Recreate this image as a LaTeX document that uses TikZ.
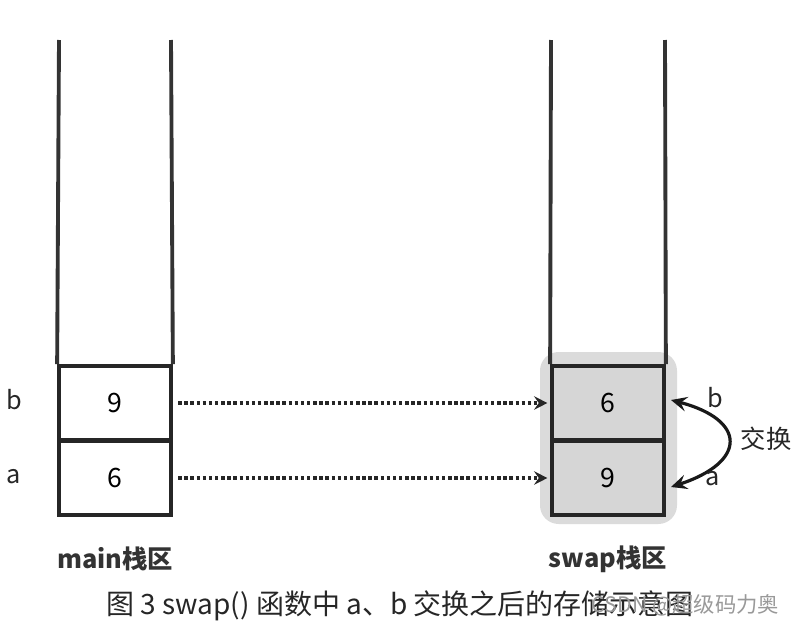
\documentclass[tikz,border=0pt]{standalone}
\usepackage{fontspec}
\setmainfont{Noto Sans CJK SC}
\usetikzlibrary{arrows.meta,fit,backgrounds}
\begin{document}
\begin{tikzpicture}[x=0.75pt,y=-0.75pt,
  cell/.style={draw=black!85,line width=2.8pt,minimum width=84pt,minimum height=55.5pt,inner sep=0pt,font=\fontsize{20}{23}\selectfont},
  wall/.style={draw=black!80,line width=2.9pt},
  lbl/.style={font=\fontsize{19}{22}\selectfont,text=black!85},
  dotarrow/.style={line width=2.6pt,dotted,black!85,-{Stealth[length=10pt,width=10pt,inset=3.5pt]},shorten >=2pt},
  swaparrow/.style={line width=2.4pt,black!90,{Stealth[length=12pt,width=11pt,inset=4.5pt]}-{Stealth[length=12pt,width=11pt,inset=4.5pt]}},
  stacklbl/.style={font=\fontsize{19}{22}\selectfont\bfseries,text=black!80}]
\useasboundingbox (0,0) rectangle (797,625);
% gray background of swap cells
\fill[black!14,rounded corners=14pt] (540,352) rectangle (677,524);
% left stack
\node[cell] (lb) at (115,403) {9};
\node[cell] (la) at (115,478) {6};
\coordinate (l1) at (59,40);
\coordinate (l2) at (171,40);
\draw[wall] (l1) -- (lb.north west);
\draw[wall] (l2) -- (lb.north east);
% right stack
\node[cell,fill=black!16] (rb) at (608,403) {6};
\node[cell,fill=black!16] (ra) at (608,478) {9};
\coordinate (r1) at (551,40);
\coordinate (r2) at (665,40);
\draw[wall] (r1) -- (rb.north west);
\draw[wall] (r2) -- (rb.north east);
% labels
\node[lbl] (bl) at (14,400) {b};
\node[lbl] (al) at (14,477) {a};
% dotted arrows
\draw[dotarrow] ([xshift=4pt]lb.east) -- (rb.west);
\draw[dotarrow] ([xshift=4pt]la.east) -- (ra.west);
% swap arrow
\coordinate (sb) at (671,400);
\coordinate (sa) at (671,487);
\draw[swaparrow] (sb) .. controls (747,420) and (747,462) .. (sa);
\node[lbl] (br) at (715,398) {b};
\node[lbl] (ar) at (713,479) {a};
\node[lbl] (jh) at (766,439) {交换};
% stack names
\node[stacklbl] (mn) at (115,559) {main栈区};
\node[stacklbl] (sw) at (608,559) {swap栈区};
% caption (the reference's watermark lies over its end)
\node[font=\fontsize{21}{24}\selectfont,text=black!85] (cap) at (400,606) {图 3 swap() 函数中 a、b 交换之后的存储示意图};
\node[font=\fontsize{16}{19}\selectfont,text=black!40,anchor=east] (wm) at (784,605) {CSDN @超级码力奥};
\end{tikzpicture}
\end{document}
